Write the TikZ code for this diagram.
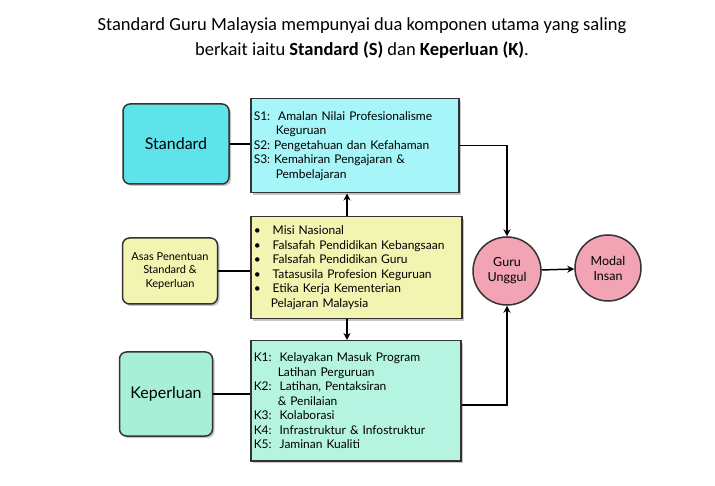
\documentclass[tikz,border=0pt]{standalone}
\usepackage{fontspec}
\setmainfont{Lato}
\newfontfamily\titlefont{Carlito}
\usetikzlibrary{shadows,arrows.meta}
\definecolor{cyanA}{HTML}{5FE3EA}
\definecolor{cyanB}{HTML}{A6F5F8}
\definecolor{yelA}{HTML}{F2F4B2}
\definecolor{mintA}{HTML}{A8EFD8}
\definecolor{mintB}{HTML}{B4F4E0}
\definecolor{pinkA}{HTML}{F2A3B4}
\tikzset{
  rbox/.style={draw=black!80,line width=1.5pt,rounded corners=7pt,drop shadow={shadow xshift=2pt,shadow yshift=-2pt,fill=black!45}},
  sbox/.style={draw=black!80,line width=1.5pt,drop shadow={shadow xshift=2pt,shadow yshift=-2pt,fill=black!45}},
  circ/.style={draw=black!80,line width=1.5pt,circle,fill=pinkA,minimum size=68pt,inner sep=0pt,align=center,font=\fontsize{12.5}{15}\selectfont},
  con/.style={line width=1.5pt},
  arr/.style={line width=1.5pt,-{Stealth[length=7pt,width=7pt]}}
}
\begin{document}
\begin{tikzpicture}[x=1pt,y=-1pt]
\useasboundingbox (0,0) rectangle (715,486);
\node[font=\titlefont\fontsize{18.5}{25}\selectfont,align=center] (title) at (362,38)
 {Standard Guru Malaysia mempunyai dua komponen utama yang saling\\ berkait iaitu \textbf{Standard (S)} dan \textbf{Keperluan (K)}.};
% left boxes
\node[rbox,fill=cyanA,minimum width=106pt,minimum height=80pt,font=\fontsize{16}{18}\selectfont] (std) at (176,144) {Standard};
\node[rbox,fill=yelA,minimum width=95pt,minimum height=66pt,align=center,font=\fontsize{11}{13.5}\selectfont] (asas) at (170,271) {Asas Penentuan\\ Standard \&\\ Keperluan};
\node[rbox,fill=mintA,minimum width=93pt,minimum height=84pt,font=\fontsize{16}{18}\selectfont] (kep) at (166,394) {Keperluan};
% center boxes
\node[sbox,fill=cyanB,minimum width=208pt,minimum height=94pt,align=left,anchor=north west,inner sep=3pt,font=\fontsize{12}{14.5}\selectfont,text width=202pt] (S) at (250,98)
 {S1:\ \ Amalan Nilai Profesionalisme\\ \hspace*{22pt}Keguruan\\ S2:\ Pengetahuan dan Kefahaman\\ S3:\ Kemahiran Pengajaran \&\\ \hspace*{22pt}Pembelajaran};
\node[sbox,fill=yelA,minimum width=211pt,minimum height=102pt,anchor=north west,inner sep=3pt,font=\fontsize{12}{14.5}\selectfont,text width=205pt,align=left] (M) at (250,216)
 {\textbullet\hspace{12pt}Misi Nasional\\ \textbullet\hspace{12pt}Falsafah Pendidikan Kebangsaan\\ \textbullet\hspace{12pt}Falsafah Pendidikan Guru\\ \textbullet\hspace{12pt}Tatasusila Profesion Keguruan\\ \textbullet\hspace{12pt}Etika Kerja Kementerian\\ \hspace*{17pt}Pelajaran Malaysia};
\node[sbox,fill=mintB,minimum width=210pt,minimum height=120pt,anchor=north west,inner sep=3pt,font=\fontsize{12}{14.5}\selectfont,text width=204pt,align=left] (K) at (250,340)
 {K1:\ \ Kelayakan Masuk Program\\ \hspace*{24pt}Latihan Perguruan\\ K2:\ \ Latihan, Pentaksiran\\ \hspace*{24pt}\& Penilaian\\ K3:\ \ Kolaborasi\\ K4:\ \ Infrastruktur \& Infostruktur\\ K5:\ \ Jaminan Kualiti};
% circles
\node[circ] (guru) at (507,271) {Guru\\ Unggul};
\node[circ,minimum size=66pt] (modal) at (608,268) {Modal\\ Insan};
\coordinate (c1) at (guru.north |- S.east);
\coordinate (c2) at (guru.south |- K.east);
% connectors
\draw[con] (std) -- (S.west |- std);
\draw[con] (asas) -- (M.west |- asas);
\draw[con] (kep) -- (K.west |- kep);
\draw[arr] (M.north -| 347,0) -- (S.south -| 347,0);
\draw[arr] (M.south -| 347,0) -- (K.north -| 347,0);
\draw[arr] (S.east) -- (c1) -- (guru.north);
\draw[arr] (K.east |- 0,405) -- (c2 |- 0,405) -- (guru.south);
\draw[arr] (guru) -- (modal);
\end{tikzpicture}
\end{document}
